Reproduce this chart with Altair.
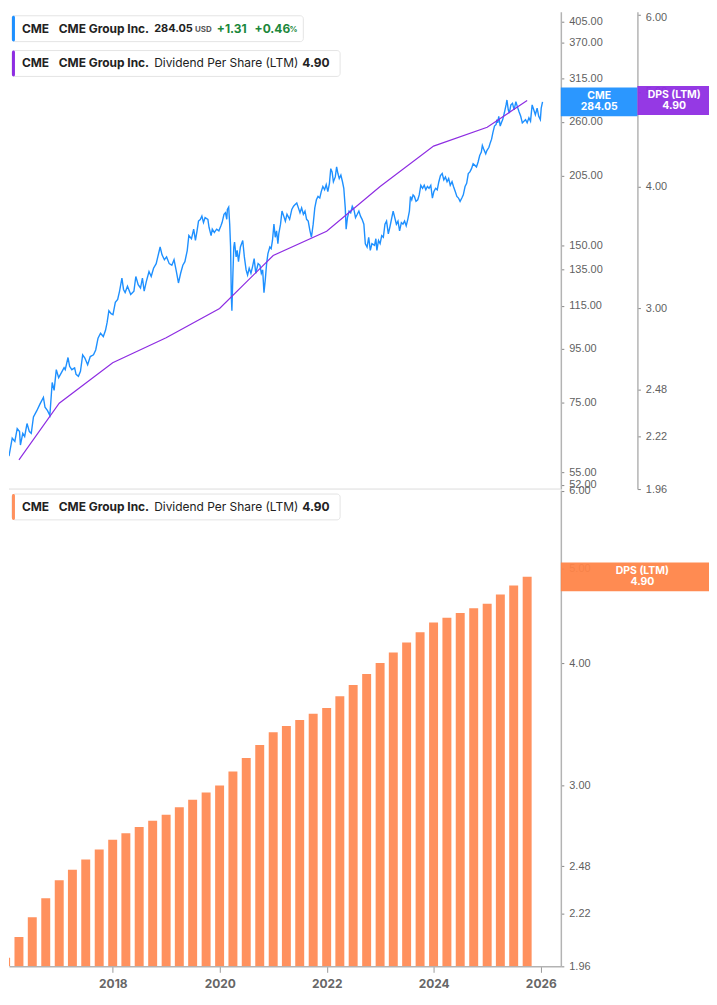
import altair as alt
import pandas as pd

# ---------------- data ----------------
# Dividend per share (LTM), quarterly
dps_dates = ["2015-12-31", "2016-03-31", "2016-06-30", "2016-09-30", "2016-12-31",
             "2017-03-31", "2017-06-30", "2017-09-30", "2017-12-31",
             "2018-03-31", "2018-06-30", "2018-09-30", "2018-12-31",
             "2019-03-31", "2019-06-30", "2019-09-30", "2019-12-31",
             "2020-03-31", "2020-06-30", "2020-09-30", "2020-12-31",
             "2021-03-31", "2021-06-30", "2021-09-30", "2021-12-31",
             "2022-03-31", "2022-06-30", "2022-09-30", "2022-12-31",
             "2023-03-31", "2023-06-30", "2023-09-30", "2023-12-31",
             "2024-03-31", "2024-06-30", "2024-09-30", "2024-12-31",
             "2025-03-31", "2025-06-30", "2025-09-30"]
dps_values = [2.00, 2.10, 2.20, 2.30, 2.40, 2.46, 2.52, 2.58, 2.64,
              2.68, 2.72, 2.76, 2.80, 2.85, 2.90, 2.95, 3.00,
              3.10, 3.20, 3.30, 3.40, 3.45, 3.50, 3.55, 3.60,
              3.70, 3.80, 3.90, 4.00, 4.10, 4.20, 4.30, 4.40,
              4.45, 4.50, 4.55, 4.60, 4.70, 4.80, 4.90]

# DPS line drawn over the price chart (year-end points)
dps_line_dates = ["2016-03-31", "2016-12-31", "2017-12-31", "2018-12-31", "2019-12-31",
                  "2020-12-31", "2021-12-31", "2022-12-31", "2023-12-31", "2024-12-31",
                  "2025-09-30"]
dps_line_values = [2.10, 2.40, 2.64, 2.80, 3.00, 3.40, 3.60, 4.00, 4.40, 4.60, 4.90]

# CME share price (decimal year, close)
price_year = [
    2016.062, 2016.122, 2016.172, 2016.214, 2016.258, 2016.276, 2016.319, 2016.355, 2016.397, 2016.441,
    2016.478, 2016.520, 2016.581, 2016.643, 2016.704, 2016.735, 2016.782, 2016.826, 2016.868, 2016.905,
    2016.947, 2016.991, 2017.039, 2017.089, 2017.112, 2017.162, 2017.193, 2017.235, 2017.285, 2017.314,
    2017.358, 2017.395, 2017.437, 2017.479, 2017.529, 2017.578, 2017.639, 2017.681, 2017.725, 2017.772,
    2017.822, 2017.864, 2017.895, 2017.926, 2017.969, 2018.005, 2018.047, 2018.091, 2018.128, 2018.170,
    2018.201, 2018.231, 2018.275, 2018.335, 2018.396, 2018.432, 2018.476, 2018.518, 2018.555, 2018.586,
    2018.628, 2018.678, 2018.720, 2018.762, 2018.812, 2018.843, 2018.885, 2018.922, 2018.964, 2019.008,
    2019.056, 2019.105, 2019.147, 2019.191, 2019.228, 2019.270, 2019.312, 2019.349, 2019.393, 2019.422,
    2019.472, 2019.514, 2019.545, 2019.576, 2019.605, 2019.637, 2019.668, 2019.697, 2019.728, 2019.778,
    2019.802, 2019.838, 2019.862, 2019.899, 2019.943, 2019.985, 2020.022, 2020.046, 2020.082, 2020.108,
    2020.132, 2020.145, 2020.168, 2020.187, 2020.205, 2020.218, 2020.229, 2020.247, 2020.265, 2020.278,
    2020.309, 2020.328, 2020.352, 2020.388, 2020.430, 2020.462, 2020.493, 2020.522, 2020.553, 2020.584,
    2020.614, 2020.645, 2020.676, 2020.718, 2020.755, 2020.779, 2020.804, 2020.828, 2020.852, 2020.878,
    2020.902, 2020.938, 2020.962, 2020.988, 2021.012, 2021.036, 2021.061, 2021.085, 2021.103, 2021.135,
    2021.164, 2021.195, 2021.226, 2021.255, 2021.305, 2021.347, 2021.378, 2021.409, 2021.439, 2021.470,
    2021.501, 2021.530, 2021.562, 2021.593, 2021.622, 2021.653, 2021.685, 2021.714, 2021.745, 2021.776,
    2021.806, 2021.837, 2021.868, 2021.897, 2021.928, 2021.959, 2021.989, 2022.020, 2022.051, 2022.075,
    2022.099, 2022.124, 2022.161, 2022.185, 2022.209, 2022.235, 2022.264, 2022.295, 2022.319, 2022.345,
    2022.363, 2022.387, 2022.418, 2022.447, 2022.478, 2022.509, 2022.539, 2022.570, 2022.601, 2022.630,
    2022.661, 2022.693, 2022.722, 2022.753, 2022.784, 2022.814, 2022.845, 2022.894, 2022.918, 2022.937,
    2022.968, 2022.997, 2023.028, 2023.059, 2023.089, 2023.120, 2023.151, 2023.180, 2023.224, 2023.243,
    2023.272, 2023.303, 2023.334, 2023.364, 2023.395, 2023.426, 2023.455, 2023.486, 2023.517, 2023.547,
    2023.565, 2023.591, 2023.615, 2023.639, 2023.670, 2023.701, 2023.730, 2023.761, 2023.792, 2023.822,
    2023.853, 2023.884, 2023.913, 2023.945, 2023.976, 2024.005, 2024.036, 2024.068, 2024.097, 2024.128,
    2024.159, 2024.189, 2024.220, 2024.251, 2024.280, 2024.311, 2024.343, 2024.372, 2024.403, 2024.434,
    2024.464, 2024.495, 2024.526, 2024.555, 2024.586, 2024.617, 2024.647, 2024.678, 2024.709, 2024.739,
    2024.770, 2024.801, 2024.830, 2024.861, 2024.892, 2024.911, 2024.935, 2024.972, 2024.995, 2025.032,
    2025.058, 2025.081, 2025.105, 2025.136, 2025.167, 2025.178, 2025.197, 2025.215, 2025.241, 2025.265,
    2025.289, 2025.320, 2025.351, 2025.369, 2025.393, 2025.411, 2025.442, 2025.472, 2025.503, 2025.534,
    2025.563, 2025.594, 2025.625, 2025.655, 2025.686, 2025.717, 2025.747, 2025.778, 2025.809, 2025.839,
    2025.870, 2025.900, 2025.931, 2025.961, 2025.992, 2026.010, 2026.034]
price_close = [
    59.0, 63.9, 63.0, 66.7, 65.8, 62.0, 65.3, 64.4, 68.2, 65.8,
    65.3, 70.2, 72.2, 74.4, 76.6, 73.3, 72.2, 70.7, 81.8, 79.0,
    86.6, 83.6, 85.5, 87.4, 86.6, 91.4, 87.9, 86.6, 87.3, 84.8,
    84.1, 86.0, 92.5, 91.2, 88.5, 91.8, 92.5, 94.5, 99.6, 101.8,
    100.3, 103.1, 106.8, 112.5, 111.0, 110.5, 116.7, 118.3, 122.7, 130.0,
    123.6, 121.9, 125.4, 120.9, 122.7, 130.9, 126.3, 124.4, 130.0, 122.7,
    128.1, 133.8, 130.9, 135.8, 138.6, 142.8, 149.2, 144.1, 141.0, 142.8,
    138.6, 137.6, 141.0, 133.8, 127.2, 132.8, 137.6, 139.8, 146.9, 157.0,
    154.8, 161.5, 153.6, 160.3, 167.4, 168.6, 171.1, 166.3, 170.0, 168.7,
    162.7, 156.9, 161.5, 159.2, 161.5, 160.3, 163.9, 166.3, 172.5, 173.7,
    168.7, 176.3, 178.1, 165.1, 149.2, 120.0, 112.5, 132.8, 149.2, 152.5,
    142.8, 147.0, 139.8, 149.2, 153.6, 142.8, 134.8, 131.8, 135.8, 132.8,
    136.8, 141.7, 132.8, 138.6, 137.6, 132.8, 134.8, 121.9, 129.1, 138.6,
    144.9, 149.2, 148.1, 153.6, 165.1, 155.8, 160.3, 151.4, 158.1, 165.1,
    175.0, 171.1, 167.4, 172.5, 168.7, 176.3, 178.8, 180.1, 181.4, 177.5,
    173.7, 177.5, 172.5, 175.0, 168.7, 167.4, 160.3, 155.8, 165.1, 177.5,
    184.0, 186.7, 185.4, 190.8, 195.1, 192.3, 196.8, 190.8, 197.9, 211.2,
    208.2, 199.3, 203.6, 212.8, 206.7, 202.2, 205.2, 199.3, 193.6, 177.5,
    161.5, 170.0, 175.0, 173.7, 178.8, 176.3, 170.0, 172.5, 175.0, 171.1,
    168.7, 165.1, 151.4, 149.2, 155.8, 147.0, 151.4, 150.3, 154.8, 147.0,
    153.6, 151.4, 156.9, 155.8, 165.1, 167.4, 158.1, 162.7, 171.1, 174.9,
    170.0, 165.1, 167.4, 160.3, 166.3, 165.1, 167.4, 163.9, 168.7, 175.0,
    186.7, 184.0, 188.0, 186.7, 182.7, 184.0, 188.0, 196.2, 193.6, 196.2,
    192.3, 195.1, 193.6, 196.2, 185.4, 190.8, 193.6, 192.3, 199.3, 204.8,
    206.7, 201.0, 203.6, 199.3, 202.2, 196.2, 199.3, 195.1, 190.8, 186.7,
    185.4, 182.7, 185.4, 188.0, 195.1, 197.9, 206.7, 208.2, 211.2, 215.9,
    214.3, 212.8, 217.5, 223.9, 227.3, 234.0, 230.4, 225.5, 228.8, 232.2,
    237.3, 240.7, 247.8, 255.1, 256.9, 262.5, 258.8, 266.4, 255.1, 258.8,
    262.5, 270.3, 280.2, 286.4, 274.2, 270.3, 280.2, 282.2, 274.2, 284.3,
    278.1, 272.2, 266.4, 258.8, 260.7, 262.5, 258.8, 264.6, 260.7, 280.2,
    274.2, 268.3, 276.2, 266.4, 262.5, 276.2, 284.05]

price_axis_values = [52, 55, 75, 95, 115, 135, 150, 205, 260, 315, 370, 405]
dps_axis_values = [1.96, 2.22, 2.48, 3.00, 4.00, 5.00, 6.00]
year_ticks = [2018, 2020, 2022, 2024, 2026]

last_price = 284.05
last_dps = 4.90

# ---------------- styling ----------------
BLUE = "#1E90FF"
PURPLE = "#8E2DE2"
ORANGE_BAR = "#FF915E"
ORANGE_BOX = "#FF8447"
GREEN = "#1B873B"
DARK = "#222222"
AX_FONT = "Liberation Sans"
FONT = "Inter"

W = 555
H_TOP = 480
H_BOT = 479
AX2 = 77          # offset of the second (DPS) axis in the top panel
RIGHT_END = W + 149


def dec_to_iso(v):
    y = int(v)
    start = pd.Timestamp(year=y, month=1, day=1)
    return (start + pd.Timedelta(days=(v - y) * 365.25)).strftime("%Y-%m-%d")


price_df = pd.DataFrame({"date": [dec_to_iso(v) for v in price_year], "price": price_close})
dps_df = pd.DataFrame({"date": dps_dates, "dps": dps_values})
dps_line_df = pd.DataFrame({"date": dps_line_dates, "dps": dps_line_values})
one = alt.Data(values=[{"a": 1}])

x_scale = alt.Scale(domain=[alt.DateTime(year=2016, month=1, date=23),
                            alt.DateTime(year=2026, month=5, date=18)], padding=0)
price_scale = alt.Scale(type="log", domain=[51.0, 423.5], nice=False, zero=False)
dps_top_scale = alt.Scale(type="log", domain=[1.96, 6.04], nice=False, zero=False)
dps_bot_scale = alt.Scale(type="log", domain=[1.96, 6.01], nice=False, zero=False)

common_axis = dict(orient="right", format=".2f", labelOverlap=False, labelFlush=False,
                   tickSize=3, tickColor="#888888", domainColor="#b3b3b3", domainWidth=1.5,
                   labelColor="#5f5f5f", labelFont=AX_FONT, labelFontSize=11,
                   labelPadding=5, grid=False, title=None)

price_axis = alt.Axis(values=price_axis_values, **common_axis)
dps_top_axis = alt.Axis(values=dps_axis_values, offset=AX2,
                        labelOffset={"condition": {"test": "datum.value >= 5.99", "value": 3}, "value": 0},
                        **common_axis)
dps_bot_axis = alt.Axis(values=dps_axis_values, **common_axis)


def txt(s, x, y, size=12, weight="bold", color=DARK, align="left"):
    return alt.Chart(one).mark_text(text=s, font=FONT, fontSize=size, fontWeight=weight,
                                    color=color, align=align, baseline="middle").encode(
        x=alt.value(x), y=alt.value(y))


def legend_box(x1, x2, y1, y2, color):
    box = alt.Chart(one).mark_rect(fill="white", stroke="#e4e4e4", strokeWidth=1,
                                   cornerRadius=3).encode(
        x=alt.value(x1), x2=alt.value(x2), y=alt.value(y1), y2=alt.value(y2))
    stripe = alt.Chart(one).mark_rect(fill=color, cornerRadius=1.5).encode(
        x=alt.value(x1), x2=alt.value(x1 + 3), y=alt.value(y1), y2=alt.value(y2))
    return [box, stripe]


def dps_legend(yc, color):
    layers = legend_box(3, 333, yc - 13, yc + 13, color)
    layers += [txt("CME", 13, yc), txt("CME Group Inc.", 50, yc),
               txt("Dividend Per Share (LTM)", 146, yc, weight="normal"),
               txt("4.90", 295, yc)]
    return layers


def value_box(value, scale, axis, x1, x2, color, label1, label2, text_x):
    width = x2 - x1
    half = 14.5 / (width / 2.0)
    shape = "M-1,-{h}L1,-{h}L1,{h}L-1,{h}Z".format(h=round(half, 4))
    ydat = alt.YDatum(value, scale=scale, axis=axis)
    box = alt.Chart(one).mark_point(shape=shape, size=width * width, filled=True,
                                    fill=color, opacity=0.94, strokeWidth=0).encode(
        x=alt.value((x1 + x2) / 2.0), y=ydat)
    t1 = alt.Chart(one).mark_text(text=label1, font=FONT, fontSize=10.5, fontWeight="bold",
                                  color="white", align="center", baseline="middle", dy=-5.5).encode(
        x=alt.value(text_x), y=ydat)
    t2 = alt.Chart(one).mark_text(text=label2, font=FONT, fontSize=10.5, fontWeight="bold",
                                  color="white", align="center", baseline="middle", dy=5.5).encode(
        x=alt.value(text_x), y=ydat)
    return [box, t1, t2]


# ---------------- top panel: price + DPS line ----------------
price_line = alt.Chart(price_df).mark_line(color=BLUE, strokeWidth=1.4, clip=True).encode(
    x=alt.X("date:T", scale=x_scale, axis=None),
    y=alt.Y("price:Q", scale=price_scale, axis=price_axis))
price_layer = alt.layer(
    price_line,
    *value_box(last_price, price_scale, price_axis, W, W + AX2, BLUE,
               "CME", "284.05", W + AX2 / 2.0))

dps_line = alt.Chart(dps_line_df).mark_line(color=PURPLE, strokeWidth=1.2, clip=True).encode(
    x=alt.X("date:T", scale=x_scale, axis=None),
    y=alt.Y("dps:Q", scale=dps_top_scale, axis=dps_top_axis))
dps_layer = alt.layer(
    dps_line,
    *value_box(last_dps, dps_top_scale, dps_top_axis, W + AX2, RIGHT_END, PURPLE,
               "DPS (LTM)", "4.90", (W + AX2 + RIGHT_END) / 2.0 + 1))

sep = alt.Chart(one).mark_rule(color="#dcdcdc", strokeWidth=1).encode(
    x=alt.value(0), x2=alt.value(W), y=alt.value(H_TOP))

top_legend = legend_box(3, 296, 4, 30, BLUE) + [
    txt("CME", 13, 17), txt("CME Group Inc.", 50, 17), txt("284.05", 146, 17, size=11),
    txt("USD", 187, 18.5, size=8, color="#555555"),
    txt("+1.31", 209, 17, color=GREEN), txt("+0.46", 247, 17, color=GREEN),
    txt("%", 282, 18.5, size=8, color=GREEN)] + dps_legend(52, PURPLE)

top = alt.layer(price_layer, dps_layer, sep, *top_legend).resolve_scale(
    y="independent").properties(width=W, height=H_TOP)

# ---------------- bottom panel: DPS bars ----------------
x_axis = alt.Axis(values=[alt.DateTime(year=y, month=1, date=1) for y in year_ticks],
                  format="%Y", labelFont=FONT, labelFontWeight="bold", labelFontSize=12,
                  labelColor="#666666", tickSize=6, tickColor="#999999",
                  domainColor="#b3b3b3", domainWidth=1.5, labelPadding=6, grid=False,
                  title=None, labelFlush=False, labelOverlap=False)

bars = alt.Chart(dps_df).mark_bar(size=9, color=ORANGE_BAR, clip=True).encode(
    x=alt.X("date:T", scale=x_scale, axis=x_axis),
    y=alt.Y("dps:Q", scale=dps_bot_scale, axis=dps_bot_axis),
    y2=alt.datum(1.96))

bottom = alt.layer(
    bars,
    *value_box(last_dps, dps_bot_scale, dps_bot_axis, W, RIGHT_END, ORANGE_BOX,
               "DPS (LTM)", "4.90", W + 82),
    *dps_legend(17, ORANGE_BAR)
).properties(width=W, height=H_BOT)

chart = alt.vconcat(top, bottom, spacing=1, bounds="flush").properties(
    padding=0).configure_view(stroke=None)

chart.save("out.html", embed_options={"renderer": "svg", "actions": False})
